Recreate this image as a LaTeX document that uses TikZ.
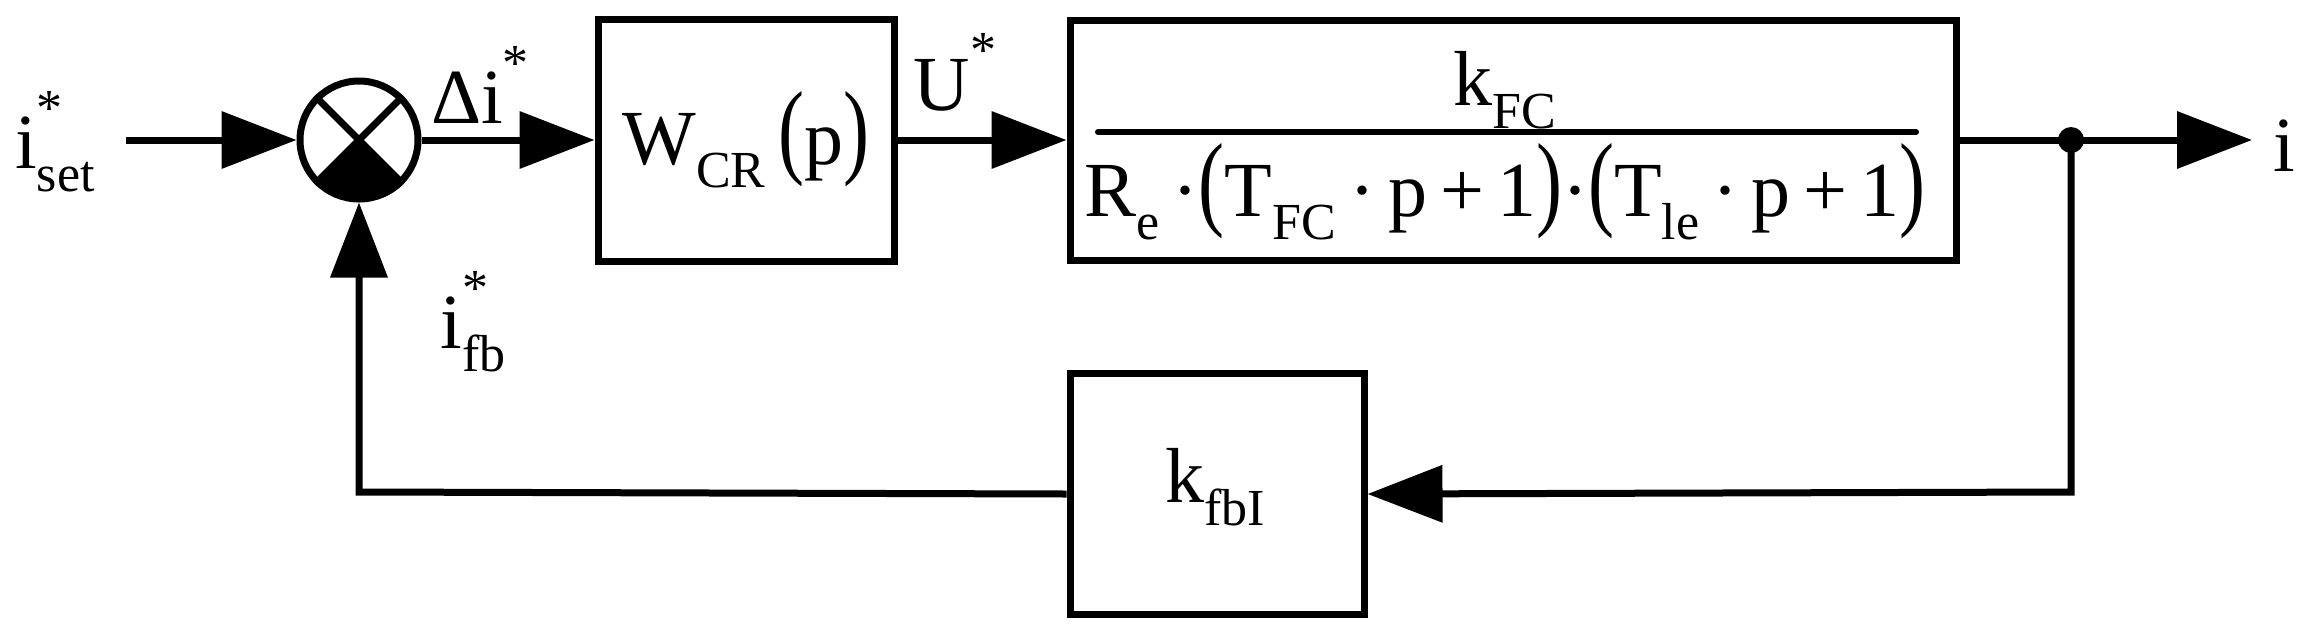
\documentclass[tikz,border=0pt]{standalone}
\usepackage{fontspec}
\setmainfont{Liberation Serif}
\usetikzlibrary{arrows.meta}
\newcommand{\sbs}[1]{\raisebox{-0.3em}{\fontsize{52}{60}\selectfont #1}}
\newcommand{\sps}[1]{\raisebox{0.55em}{\fontsize{52}{60}\selectfont #1}}
\newcommand{\bpar}[1]{\scalebox{1}[1.35]{#1}}
\begin{document}
\begin{tikzpicture}[x=1pt,y=-1pt,
  lw/.style={line width=7pt},
  blk/.style={draw,lw,minimum width=#1,inner sep=0pt},
  arr/.style={lw,-{Triangle[length=75pt,width=56pt]}},
  lbl/.style={font=\fontsize{78}{90}\selectfont,inner sep=0pt}]
\useasboundingbox (0,0) rectangle (2313,638);
% blocks
\node[blk=296pt,minimum height=242pt] (wcr) at (746,140) {};
\node[blk=886pt,minimum height=240pt] (pl) at (1513,140) {};
\node[blk=294pt,minimum height=241pt] (fb) at (1217,494) {};
\node[lbl] (wcrt) at (746,140) {W\sbs{CR}\,\bpar{(}p\bpar{)}};
\node[lbl] (num) at (1505,90) {k\sbs{FC}};
\node[lbl] (den) at (1505,192) {R\sbs{e}\,·\bpar{(}T\sbs{FC}\,·\,p\,+\,1\bpar{)}·\bpar{(}T\sbs{le}\,·\,p\,+\,1\bpar{)}};
\coordinate (fl) at (1098,132); \coordinate (fr) at (1916,132);
\draw[line width=6pt,line cap=round] (fl) -- (fr);
\node[lbl] (kfb) at (1215,487) {k\sbs{fbI}};
% summing junction
\node[circle,draw,lw,minimum size=118pt,inner sep=0pt] (s) at (359,140) {};
\draw[lw] (s.north west) -- (s.south east) (s.north east) -- (s.south west);
\fill (s.center) -- (s.south east) arc (-45:-135:59pt) -- cycle;
% dot
\fill (2071,140) circle (13pt) coordinate (dt);
\coordinate (in) at (126,140);
\coordinate (out) at (2252,140);
\coordinate (c1) at (2071,492);
\coordinate (c2) at (359,492);
% connectors
\draw[arr] (in) -- (s.west);
\draw[arr] (s.east) -- (wcr.west);
\draw[arr] (wcr.east) -- (pl.west);
\draw[lw] (pl.east) -- (dt);
\draw[arr] (dt) -- (out);
\draw[arr,line join=miter] (dt) -- (c1) -- (fb.east);
\draw[arr,line join=miter] (fb.west) -- (c2) -- (s.south);
% labels
\node[lbl] (iset) at (55,142) {i\rlap{\sps{*}}\sbs{set}};
\node[lbl] (di) at (480,85) {Δi\sps{*}};
\node[lbl] (u) at (955,72) {U\sps{*}};
\node[lbl] (ifb) at (473,322) {i\rlap{\sps{*}}\sbs{fb}};
\node[lbl] (i) at (2284,146) {i};
\end{tikzpicture}
\end{document}
